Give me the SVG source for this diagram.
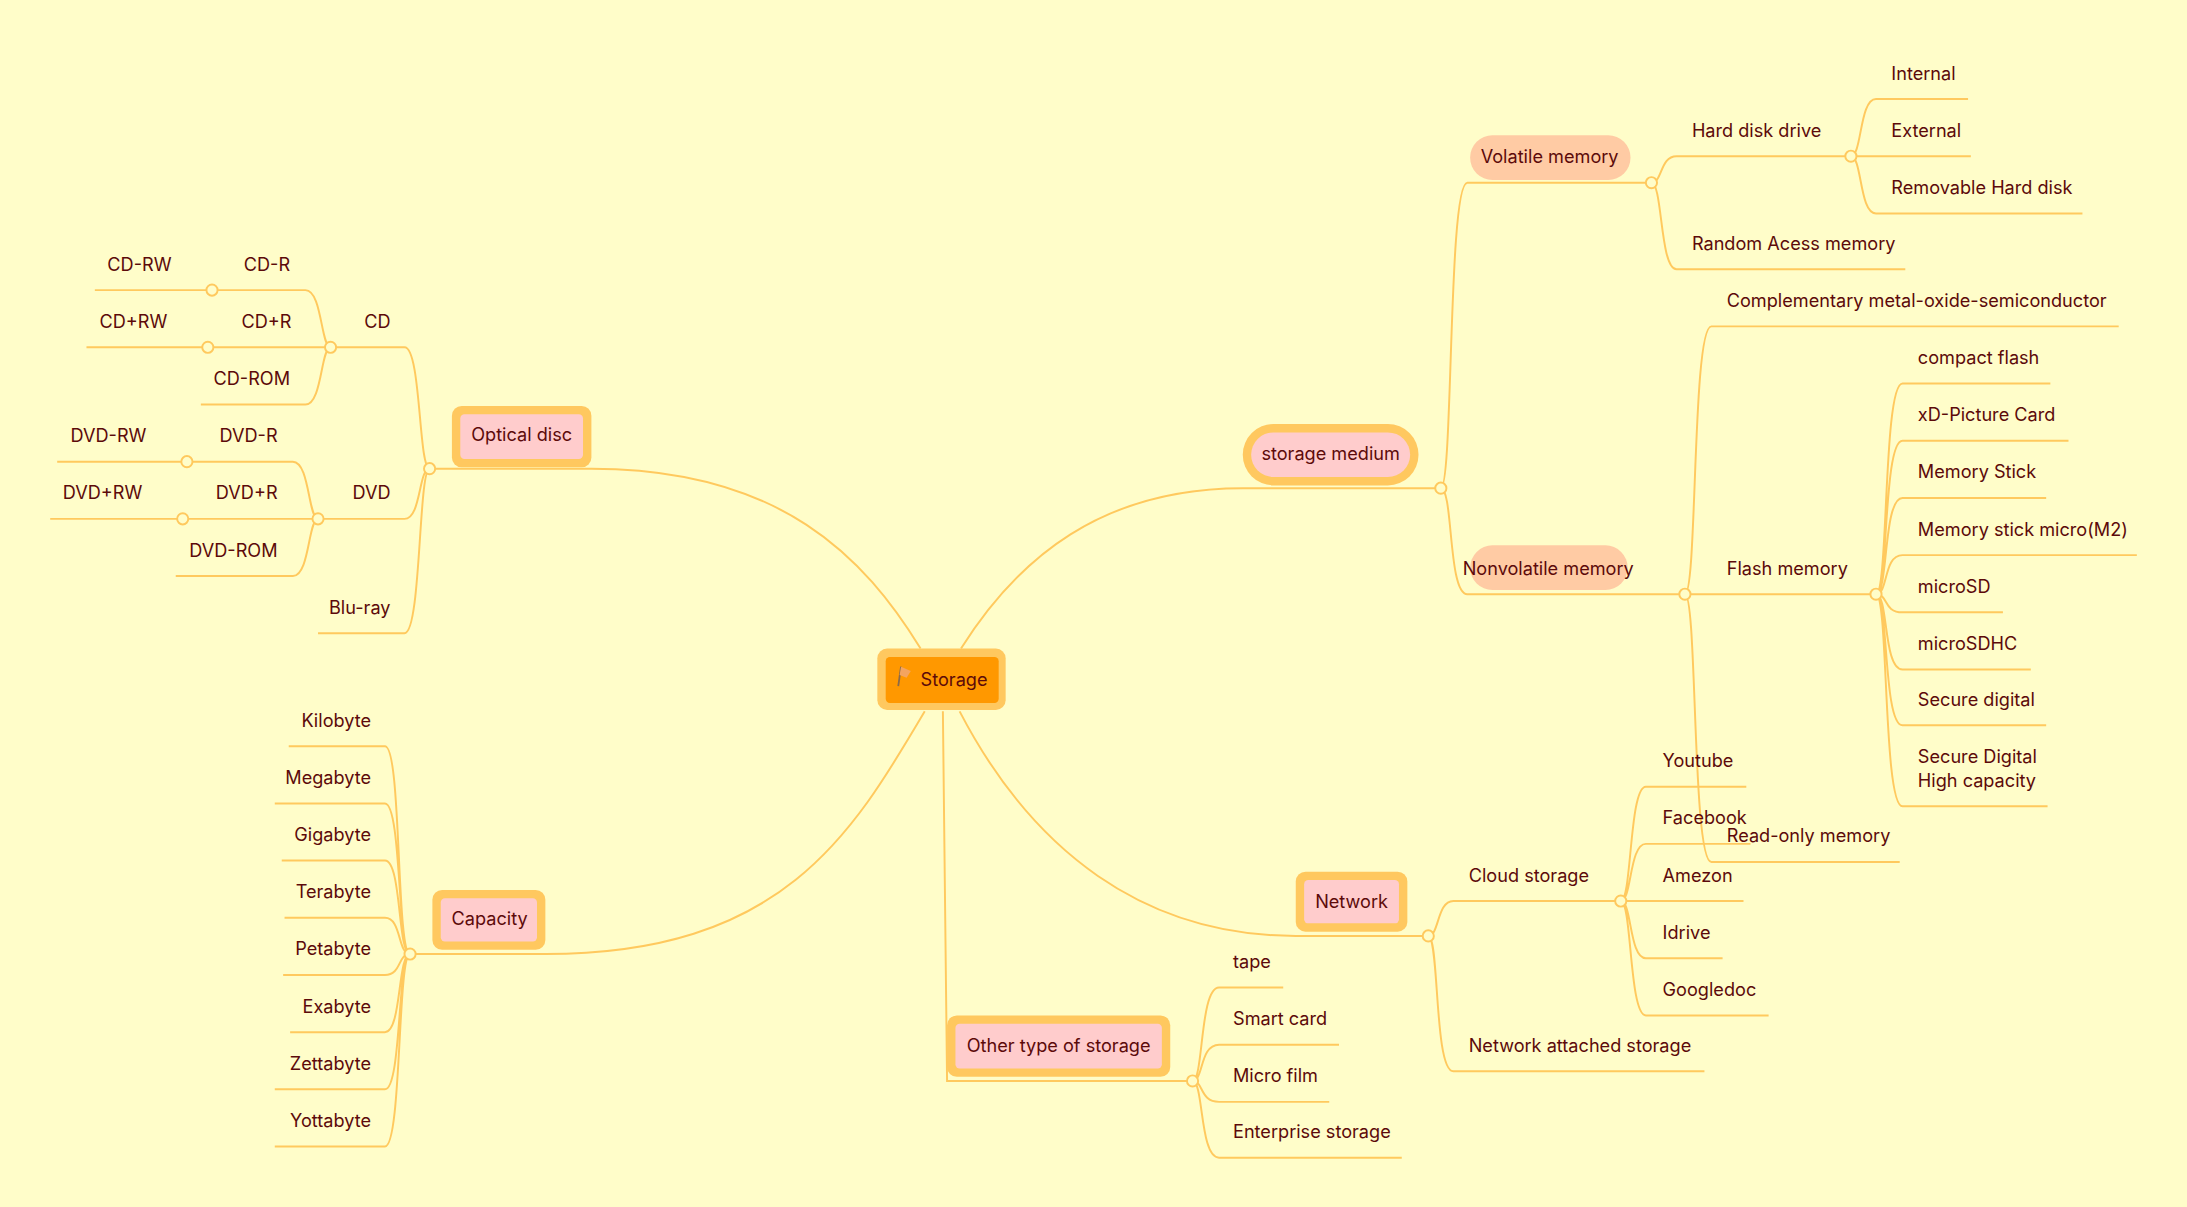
<svg xmlns="http://www.w3.org/2000/svg" width="2187" height="1207" viewBox="0 0 2187 1207">
<style>
.l{fill:none;stroke:#FFC95E;stroke-width:1.4}
.c{fill:#FFFDC9;stroke:#FFC95E;stroke-width:1.4}
text{font-family:Inter,"Noto Sans",sans-serif;font-size:13px;fill:#5C0A0A}
.e{text-anchor:end}.m{text-anchor:middle}
.o{fill:#FFC85F}.p{fill:#FFCCCC}.v{fill:#FFCBA4}
</style>
<rect width="2187" height="1207" fill="#FFFDC9"/>
<g transform="scale(1.3948)">
<g id="connectors">
<path class="l" d="M660 465 C620 400 560 336 424 336 L308 336"/>
<path class="l" d="M663 510 C610 600 560 684 391 684 L294 684"/>
<path class="l" d="M689 465 C730 400 790 350 891 350 L1033 350"/>
<path class="l" d="M688 510 C740 610 820 671 929 671 L1024 671"/>
<path class="l" d="M676 510 L679 775 L855 775"/>
<path class="l" d="M308 336 C300 336 302 249 290 249 L237 249 M308 336 C300 336 302 372 290 372 L228 372 M308 336 C300 336 302 454 290 454 L228 454"/>
<path class="l" d="M237 249 C230 249 231 208 219 208 L68 208 M237 249 L62 249 M237 249 C230 249 231 290 219 290 L144 290"/>
<path class="l" d="M228 372 C221 372 222 331 210 331 L41 331 M228 372 L36 372 M228 372 C221 372 222 413 210 413 L126 413"/>
<path class="l" d="M294 684 C284 684 288 535 276 535 L207 535 M294 684 C285 684 288 576 276 576 L197 576 M294 684 C285 684 288 617 276 617 L202 617 M294 684 C285 684 288 658 276 658 L204 658 M294 684 C285 684 288 699 276 699 L203 699 M294 684 C285 684 288 740 276 740 L208 740 M294 684 C285 684 288 781 276 781 L197 781 M294 684 C285 684 288 822 276 822 L197 822"/>
<path class="l" d="M855 775 C863 775 860 708 874 708 L920 708 M855 775 C863 775 860 749 874 749 L960 749 M855 775 C863 775 860 790 874 790 L953 790 M855 775 C863 775 860 830 874 830 L1005 830"/>
<path class="l" d="M1024 671 C1032 671 1030 646 1042 646 L1162 646 M1024 671 C1032 671 1028 768 1042 768 L1222 768"/>
<path class="l" d="M1162 646 C1170 646 1168 564 1180 564 L1252 564 M1162 646 C1170 646 1168 605 1180 605 L1255 605 M1162 646 L1250 646 M1162 646 C1170 646 1168 687 1180 687 L1235 687 M1162 646 C1170 646 1168 728 1180 728 L1268 728"/>
<path class="l" d="M1033 350 C1042 350 1038 131 1052 131 L1184 131 M1033 350 C1042 350 1038 426 1052 426 L1208 426"/>
<path class="l" d="M1184 131 C1192 131 1190 112 1202 112 L1327 112 M1184 131 C1192 131 1190 193 1202 193 L1366 193"/>
<path class="l" d="M1327 112 C1335 112 1333 71 1345 71 L1411 71 M1327 112 L1413 112 M1327 112 C1335 112 1333 153 1345 153 L1493 153"/>
<path class="l" d="M1208 426 C1217 426 1213 234 1227 234 L1519 234 M1208 426 L1345 426 M1208 426 C1217 426 1213 618 1227 618 L1362 618"/>
<path class="l" d="M1345 426 C1354 426 1350 275 1364 275 L1470 275 M1345 426 C1354 426 1350 316 1364 316 L1483 316 M1345 426 C1354 426 1350 357 1364 357 L1467 357 M1345 426 C1354 426 1350 398 1364 398 L1532 398 M1345 426 C1354 426 1350 439 1364 439 L1436 439 M1345 426 C1354 426 1350 480 1364 480 L1456 480 M1345 426 C1354 426 1350 520 1364 520 L1467 520 M1345 426 C1354 426 1350 578 1364 578 L1468 578"/>
<circle class="c" cx="308" cy="336" r="4"/><circle class="c" cx="237" cy="249" r="4"/><circle class="c" cx="152" cy="208" r="4"/><circle class="c" cx="149" cy="249" r="4"/>
<circle class="c" cx="228" cy="372" r="4"/><circle class="c" cx="134" cy="331" r="4"/><circle class="c" cx="131" cy="372" r="4"/>
<circle class="c" cx="294" cy="684" r="4"/><circle class="c" cx="855" cy="775" r="4"/><circle class="c" cx="1024" cy="671" r="4"/><circle class="c" cx="1162" cy="646" r="4"/>
<circle class="c" cx="1033" cy="350" r="4"/><circle class="c" cx="1184" cy="131" r="4"/><circle class="c" cx="1327" cy="112" r="4"/><circle class="c" cx="1208" cy="426" r="4"/><circle class="c" cx="1345" cy="426" r="4"/>
</g>
<g id="storage"><rect class="o" x="629" y="465" width="92" height="44" rx="7"/><rect x="635" y="471" width="81" height="33" rx="3" fill="#FF9800"/><path d="M646 478 L644 492" stroke="#8a6a4a" stroke-width="1.3"/><path d="M646 478 L653 481 L650 486 L645 484Z" fill="#F4A460"/><text x="660" y="492">Storage</text></g>
<g id="optical"><rect class="o" x="324" y="291" width="100" height="44" rx="7"/><rect class="p" x="330" y="297" width="88" height="32" rx="3"/><text class="m" x="374" y="316">Optical disc</text></g>
<g id="capacity"><rect class="o" x="310" y="638" width="81" height="43" rx="7"/><rect class="p" x="316" y="644" width="69" height="31" rx="3"/><text class="m" x="351" y="663">Capacity</text></g>
<g id="other"><rect class="o" x="679" y="728" width="160" height="44" rx="7"/><rect class="p" x="685" y="734" width="148" height="32" rx="3"/><text class="m" x="759" y="754">Other type of storage</text></g>
<g id="network"><rect class="o" x="929" y="625" width="80" height="43" rx="7"/><rect class="p" x="935" y="631" width="68" height="31" rx="3"/><text class="m" x="969" y="651">Network</text></g>
<g id="medium"><rect class="o" x="891" y="304" width="126" height="44" rx="22"/><rect class="p" x="897" y="310" width="114" height="32" rx="16"/><text class="m" x="954" y="330">storage medium</text></g>
<g id="volatile"><rect class="v" x="1054" y="97" width="115" height="32" rx="16"/><text class="m" x="1111" y="117">Volatile memory</text></g>
<g id="nonvolatile"><rect class="v" x="1054" y="391" width="113" height="32" rx="16"/><text class="m" x="1110" y="412">Nonvolatile memory</text></g>
<g id="labels">
<text class="e" x="280" y="235">CD</text><text class="e" x="208" y="194">CD-R</text><text class="e" x="123" y="194">CD-RW</text><text class="e" x="209" y="235">CD+R</text><text class="e" x="120" y="235">CD+RW</text><text class="e" x="208" y="276">CD-ROM</text>
<text class="e" x="280" y="358">DVD</text><text class="e" x="199" y="317">DVD-R</text><text class="e" x="105" y="317">DVD-RW</text><text class="e" x="199" y="358">DVD+R</text><text class="e" x="102" y="358">DVD+RW</text><text class="e" x="199" y="399">DVD-ROM</text><text class="e" x="280" y="440">Blu-ray</text>
<text class="e" x="266" y="521">Kilobyte</text><text class="e" x="266" y="562">Megabyte</text><text class="e" x="266" y="603">Gigabyte</text><text class="e" x="266" y="644">Terabyte</text><text class="e" x="266" y="685">Petabyte</text><text class="e" x="266" y="726">Exabyte</text><text class="e" x="266" y="767">Zettabyte</text><text class="e" x="266" y="808">Yottabyte</text>
<text x="884" y="694">tape</text><text x="884" y="735">Smart card</text><text x="884" y="776">Micro film</text><text x="884" y="816">Enterprise storage</text>
<text x="1053" y="632">Cloud storage</text><text x="1053" y="754">Network attached storage</text>
<text x="1192" y="550">Youtube</text><text x="1192" y="591">Facebook</text><text x="1192" y="632">Amezon</text><text x="1192" y="673">Idrive</text><text x="1192" y="714">Googledoc</text>
<text x="1213" y="98">Hard disk drive</text><text x="1213" y="179">Random Acess memory</text>
<text x="1356" y="57">Internal</text><text x="1356" y="98">External</text><text x="1356" y="139">Removable Hard disk</text>
<text x="1238" y="220">Complementary metal-oxide-semiconductor</text><text x="1238" y="412">Flash memory</text><text x="1238" y="604">Read-only memory</text>
<text x="1375" y="261">compact flash</text><text x="1375" y="302">xD-Picture Card</text><text x="1375" y="343">Memory Stick</text><text x="1375" y="384">Memory stick micro(M2)</text><text x="1375" y="425">microSD</text><text x="1375" y="466">microSDHC</text><text x="1375" y="506">Secure digital</text><text x="1375" y="547">Secure Digital</text><text x="1375" y="564">High capacity</text>
</g>
</g>
</svg>
